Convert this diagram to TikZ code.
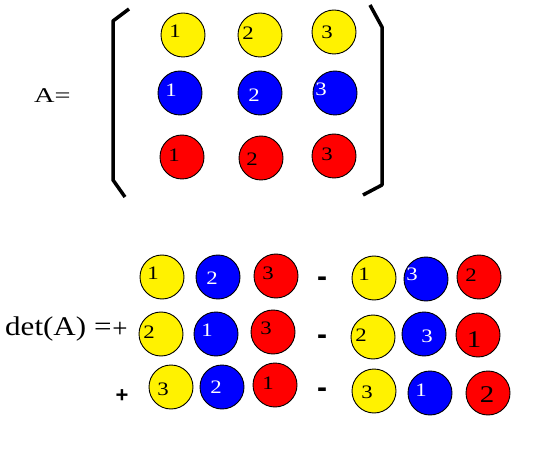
\documentclass[tikz,border=0pt]{standalone}
\usepackage{fontspec}
\setmainfont{Liberation Serif}
\newfontfamily\signfont{Liberation Sans}
\tikzset{
  ball/.style={circle, draw=black, line width=0.9pt, minimum size=44pt, inner sep=0pt},
  num/.style={inner sep=0pt, font=\fontsize{19}{19}\selectfont},
  bignum/.style={inner sep=0pt, font=\fontsize{24}{24}\selectfont},
  sign/.style={inner sep=0pt, font=\signfont\bfseries\fontsize{22}{22}\selectfont},
  minus/.style={inner sep=0pt, font=\signfont\bfseries\fontsize{30}{30}\selectfont},
  bracket/.style={line width=3.5pt, line join=round}
}

\begin{document}
\begin{tikzpicture}[x=1pt,y=-1pt]
\useasboundingbox (0,0) rectangle (557,473);
% the matrix A
\node[inner sep=0pt, anchor=base west, font=\fontsize{21}{21}\selectfont] (lhsA) at (34,103) {\scalebox{1.35}[1]{A=}};
\draw[bracket] (129,9) -- (113,21) -- (113,180) -- (125,197);
\draw[bracket] (370,5) -- (382,27) -- (382,185) -- (363,195);
\foreach \n/\x/\y/\c/\t/\k/\lx/\ly in {
  a1/183/35/yellow/black/1/175/31, a2/260/35/yellow/black/2/248/33, a3/334/32/yellow/black/3/327/32,
  b1/180/93/blue/white/1/171/90, b2/260/93/blue/white/2/254/95, b3/335/93/blue/white/3/321/89,
  c1/182/157/red/black/1/174/155, c2/261/158/red/black/2/252/159, c3/334/156/red/black/3/327/154}
{
  \node[ball, fill=\c] (\n) at (\x,\y) {};
  \node[num, text=\t] (\n-k) at (\lx,\ly) {\scalebox{1.2}[1]{\k}};
}
% the determinant
\node[inner sep=0pt, anchor=base west, font=\fontsize{27}{27}\selectfont] (lhsdet) at (5,335) {\scalebox{1.15}[1]{det(A) =}};
\node[inner sep=0pt, font=\fontsize{27}{27}\selectfont] (plus2) at (120,330) {+};
\node[sign] (plus3) at (122,396) {+};
\node[minus] (minus1) at (322,282) {-};
\node[minus] (minus2) at (322,340) {-};
\node[minus] (minus3) at (322,393) {-};
\foreach \n/\x/\y/\c/\t/\k/\lx/\ly in {
  p11/162/277/yellow/black/1/153/273, p12/218/277/blue/white/2/212/278, p13/276/276/red/black/3/268/273,
  p21/161/334/yellow/black/2/149/332, p22/216/334/blue/white/1/207/330, p23/273/332/red/black/3/266/328,
  p31/171/387/yellow/black/3/163/389, p32/222/387/blue/white/2/216/387, p33/275/385/red/black/1/268/383,
  m11/374/278/yellow/black/1/364/274, m12/426/279/blue/white/3/412/274, m13/479/277/red/black/2/471/275,
  m21/373/337/yellow/black/2/361/335, m22/424/334/blue/white/3/427/336,
  m31/374/391/yellow/black/3/367/392, m32/430/393/blue/white/1/421/390}
{
  \node[ball, fill=\c] (\n) at (\x,\y) {};
  \node[num, text=\t] (\n-k) at (\lx,\ly) {\scalebox{1.2}[1]{\k}};
}
\node[ball, fill=red] (m23) at (478,335) {};
\node[bignum] (m23-k) at (474,340) {\scalebox{1.2}[1]{1}};
\node[ball, fill=red] (m33) at (488,393) {};
\node[bignum] (m33-k) at (487,395) {\scalebox{1.2}[1]{2}};
\end{tikzpicture}
\end{document}
